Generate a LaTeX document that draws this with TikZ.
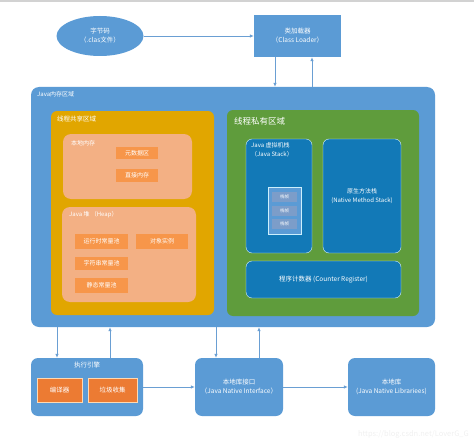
\documentclass[tikz,border=0pt]{standalone}
\usepackage{fontspec}
\setmainfont{Noto Sans CJK SC}
\usetikzlibrary{arrows.meta,shapes.geometric}
\definecolor{memblue}{HTML}{5B9BD5}
\definecolor{yarea}{HTML}{E1A600}
\definecolor{salmon}{HTML}{F3B084}
\definecolor{obox}{HTML}{F7964A}
\definecolor{garea}{HTML}{5F9C3C}
\definecolor{sblue}{HTML}{1279B7}
\definecolor{frameb}{HTML}{7C9DC9}
\definecolor{eorange}{HTML}{EC7B33}
\definecolor{arrc}{HTML}{6A9FD3}
\tikzset{
  area/.style={rounded corners=#1, inner sep=0pt, draw=none},
  area/.default=8pt,
  lbl/.style={text=white, inner sep=0pt, anchor=west, font=\fontsize{6}{7}\selectfont},
  ctxt/.style={text=white, align=center, font=\fontsize{6.5}{9}\selectfont},
  smallbox/.style={fill=obox, inner sep=0pt, text=white, font=\fontsize{6}{7}\selectfont},
  arr/.style={draw=arrc, line width=0.7pt, -{Latex[length=4pt,width=3.5pt]}},
}
\begin{document}
\begin{tikzpicture}[x=1pt,y=-1pt]
\useasboundingbox (0,0) rectangle (474,444);
\fill[gray!35] (0,0) rectangle (474,2);
% top
\node[ellipse, fill=memblue, minimum width=87pt, minimum height=40pt, inner sep=0pt, ctxt] (bc) at (100,36) {字节码\\（.clas文件）};
\node[fill=memblue, minimum width=87pt, minimum height=42pt, inner sep=0pt, ctxt] (cl) at (297.5,36) {类加载器\\（Class Loader）};
% memory area
\node[area, fill=memblue, minimum width=404pt, minimum height=240pt] (mem) at (233,207) {};
\node[lbl] (memlbl) at (37,94) {Java内存区域};
% shared
\node[area=6pt, fill=yarea, minimum width=163pt, minimum height=204pt] (sh) at (132.5,213) {};
\node[lbl, font=\fontsize{6.5}{8}\selectfont] (shlbl) at (57,119) {线程共享区域};
\node[area=8pt, fill=salmon, minimum width=129pt, minimum height=65pt] (loc) at (127.5,166.5) {};
\node[lbl] (loclbl) at (71,143) {本地内存};
\node[smallbox, minimum width=42pt, minimum height=12pt] (meta) at (137,153) {元数据区};
\node[smallbox, minimum width=42pt, minimum height=13pt] (direct) at (137,175.5) {直接内存};
\node[area=8pt, fill=salmon, minimum width=134pt, minimum height=95pt] (heap) at (129,254.5) {};
\node[lbl] (heaplbl) at (69,215) {Java 堆 （Heap）};
\node[smallbox, minimum width=53pt, minimum height=15pt] (rt) at (101.5,241.5) {运行时常量池};
\node[smallbox, minimum width=52pt, minimum height=15pt] (obj) at (162,241.5) {对象实例};
\node[smallbox, minimum width=53pt, minimum height=13pt] (str) at (101.5,263.5) {字符串常量池};
\node[smallbox, minimum width=53pt, minimum height=15pt] (stat) at (101.5,285.5) {静态常量池};
% private
\node[area=6pt, fill=garea, minimum width=192pt, minimum height=206pt] (pv) at (323,213) {};
\node[lbl, font=\fontsize{8.5}{10}\selectfont] (pvlbl) at (234,121) {线程私有区域};
\node[area=6pt, fill=sblue, draw=cyan!15!white, line width=0.4pt, minimum width=66pt, minimum height=114pt] (js) at (279,196) {};
\node[lbl, align=left, anchor=north west, font=\fontsize{6}{9}\selectfont] (jslbl) at (251,142) {Java 虚拟机栈\\（Java Stack）};
\node[fill=memblue, draw=cyan!20!white, line width=0.4pt, inner sep=0pt, minimum width=33pt, minimum height=47pt] (fc) at (284.5,210.5) {};
\node[fill=frameb, inner sep=0pt, minimum width=25pt, minimum height=10pt, text=white, font=\fontsize{4.5}{5}\selectfont] (f1) at (284.5,197) {栈帧};
\node[fill=frameb, inner sep=0pt, minimum width=25pt, minimum height=10pt, text=white, font=\fontsize{4.5}{5}\selectfont] (f2) at (284.5,211) {栈帧};
\node[fill=frameb, inner sep=0pt, minimum width=25pt, minimum height=10pt, text=white, font=\fontsize{4.5}{5}\selectfont] (f3) at (284.5,224) {栈帧};
\node[area=6pt, fill=sblue, draw=cyan!15!white, line width=0.4pt, minimum width=78pt, minimum height=114pt, ctxt, font=\fontsize{6}{9}\selectfont] (ns) at (362,196) {原生方法栈\\(Native Method Stack)};
\node[area=6pt, fill=sblue, draw=cyan!15!white, line width=0.4pt, minimum width=155pt, minimum height=37pt, ctxt] (pc) at (323.5,279.5) {程序计数器 (Counter Register)};
% bottom
\node[area=7pt, fill=memblue, minimum width=112pt, minimum height=58pt] (ex) at (87,387) {};
\node[ctxt, inner sep=0pt] (exlbl) at (87,365) {执行引擎};
\node[fill=eorange, draw=orange!30!white, line width=0.5pt, inner sep=0pt, minimum width=45pt, minimum height=24pt, text=white, font=\fontsize{6.5}{8}\selectfont] (comp) at (59.5,390) {编译器};
\node[fill=eorange, draw=orange!30!white, line width=0.5pt, inner sep=0pt, minimum width=49pt, minimum height=24pt, text=white, font=\fontsize{6.5}{8}\selectfont] (gc) at (112.5,390) {垃圾收集};
\node[area=7pt, fill=memblue, minimum width=88pt, minimum height=58pt, ctxt] (jni) at (239,387) {本地库接口\\（Java Native Interface）};
\node[area=7pt, fill=memblue, minimum width=87pt, minimum height=58pt, ctxt] (lib) at (391.5,387) {本地库\\(Java Native Librariees)};
\node[text=gray!12, anchor=east, inner sep=0pt, font=\fontsize{7.5}{9}\selectfont] (wm) at (469,434) {https://blog.csdn.net/LoverG\_G};
% arrows
\draw[arr] (bc.east) -- (cl.west);
\draw[arr] ([xshift=-22.5pt]cl.south) -- ([xshift=-22.5pt]cl.south |- mem.north);
\draw[arr] ([xshift=14.5pt]cl.south |- mem.north) -- ([xshift=14.5pt]cl.south);
\draw[arr] ([xshift=-30pt]ex.north |- mem.south) -- ([xshift=-30pt]ex.north);
\draw[arr] ([xshift=23pt]ex.north) -- ([xshift=23pt]ex.north |- mem.south);
\draw[arr] ([xshift=-23pt]jni.north |- mem.south) -- ([xshift=-23pt]jni.north);
\draw[arr] ([xshift=20pt]jni.north) -- ([xshift=20pt]jni.north |- mem.south);
\draw[arr] (ex.east) -- (jni.west);
\draw[arr] (jni.east) -- (lib.west);
\end{tikzpicture}
\end{document}
